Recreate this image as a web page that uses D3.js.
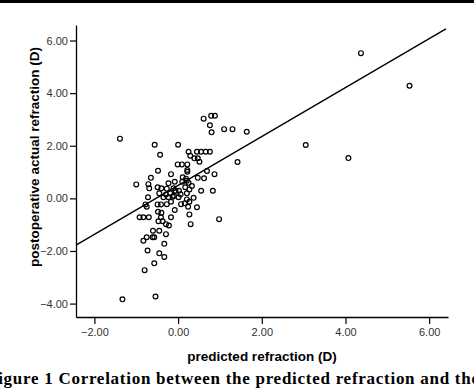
<!DOCTYPE html>
<html>
<head>
<meta charset="utf-8">
<script src="https://cdn.jsdelivr.net/npm/d3@7"></script>
<style>
  body { margin: 0; background: #fff; }
  svg { display: block; }
</style>
</head>
<body>
<script>
// predicted refraction (D) and postoperative actual refraction (D)
let predicted = [4.37, 5.53, 1.64, 3.05, 4.07, 1.42,
  -1.39, -0.56, 0.00, -0.43, 0.61, 0.79, 0.88, 0.76, 0.80, 1.10, 1.30,
  0.25, 0.45, 0.55, 0.66, 0.76, 0.29, 0.39, 0.47, 0.51,
  -0.01, 0.09, 0.22, 0.22, 0.22, -0.48, -0.17, 0.69, 0.87, 0.62, 0.47, -0.65, 0.11, 0.19,
  -0.08, 0.10, 0.21, -1.00, -0.71, -0.69, -0.23, 0.25, 0.33, -0.49, -0.40, -0.27, -0.11,
  0.02, -0.06, 0.17, 0.27, 0.55, 0.83, -0.45, -0.29, -0.19, -0.10, 0.06, 0.21,
  -0.72, -0.35, -0.23, -0.13, 0.01, 0.21, 0.37,
  -0.78, -0.75, -0.49, -0.41, -0.27, -0.08, 0.16, 0.24, 0.45, 0.27, -0.48, -0.40,
  -0.92, -0.83, -0.70, -0.41, -0.17, 0.98, -0.17, 0.07, 0.27,
  -0.47, -0.37, -0.29, -0.22, 0.30, -0.60, -0.45, -0.29, -0.75, -0.61, -0.57,
  -0.83, -0.33, -0.73, -0.45, -0.33, -0.57, -0.80, -1.33, -0.54];
let actual = [5.52, 4.28, 2.53, 2.03, 1.53, 1.38,
  2.27, 2.04, 2.04, 1.66, 3.03, 3.14, 3.14, 2.78, 2.51, 2.63, 2.63,
  1.77, 1.77, 1.77, 1.77, 1.77, 1.62, 1.52, 1.52, 1.39,
  1.29, 1.29, 1.29, 1.08, 1.01, 1.05, 0.92, 1.04, 0.92, 0.76, 0.78, 0.78, 0.80, 0.75,
  0.63, 0.63, 0.67, 0.53, 0.54, 0.38, 0.57, 0.59, 0.47, 0.42, 0.38, 0.37, 0.38,
  0.29, 0.29, 0.42, 0.34, 0.29, 0.29, 0.19, 0.15, 0.19, 0.10, 0.16, 0.19,
  0.04, 0.04, 0.04, 0.06, 0.04, -0.04, 0.02,
  -0.23, -0.32, -0.23, -0.23, -0.22, -0.44, -0.19, -0.32, -0.34, -0.61, -0.51, -0.55,
  -0.72, -0.72, -0.72, -0.72, -0.72, -0.79, -0.13, -0.22, -0.13,
  -0.87, -0.87, -0.98, -1.03, -0.98, -1.23, -1.23, -1.36, -1.48, -1.48, -1.48,
  -1.61, -1.73, -1.98, -2.09, -2.23, -2.47, -2.73, -3.84, -3.73];

let xTicks = [-2, 0, 2, 4, 6];
let yTicks = [-4, -2, 0, 2, 4, 6];
// fit line: intercept, slope, and x where it ends
let fitIntercept = 0.49;
let fitSlope = 0.93;
let fitEndX = 6.40;

let w = 474;
let h = 388;
let sans = "'Liberation Sans', Arial, sans-serif";

let svg = d3.select("body")
            .append("svg")
            .attr("width", w)
            .attr("height", h);

// black rule at top of page
svg.append("rect")
    .attr("x", 0).attr("y", 0)
    .attr("width", w).attr("height", 3)
    .attr("fill", "#000");

let x = d3.scaleLinear().domain([-2.44, 6.45]).range([76, 448]);
let y = d3.scaleLinear().domain([-4.51, 6.59]).range([317, 25]);

let fmt = d3.format(".2f");

let yAxis = svg.append("g")
    .attr("transform", "translate(76,0)")
    .call(d3.axisLeft(y).tickValues(yTicks).tickFormat(fmt).tickSize(6).tickSizeOuter(0));

let xAxis = svg.append("g")
    .attr("transform", "translate(0,317)")
    .call(d3.axisBottom(x).tickValues(xTicks).tickFormat(fmt).tickSize(7).tickSizeOuter(0));

svg.selectAll(".domain").attr("stroke", "#000").attr("stroke-width", 1.3);
svg.selectAll(".tick line").attr("stroke", "#000").attr("stroke-width", 1.2);
svg.selectAll(".tick text")
    .attr("font-family", sans)
    .attr("font-size", "11px")
    .attr("fill", "#333");
yAxis.selectAll(".tick text").attr("x", -8);
xAxis.selectAll(".tick text").attr("y", 11);

// regression line
svg.append("line")
    .attr("x1", x(-2.44))
    .attr("y1", y(fitIntercept + fitSlope * -2.44))
    .attr("x2", x(fitEndX))
    .attr("y2", y(fitIntercept + fitSlope * fitEndX))
    .attr("stroke", "#000")
    .attr("stroke-width", 1.4);

svg.selectAll("circle.pt")
    .data(d3.range(predicted.length))
    .enter()
    .append("circle")
    .attr("class", "pt")
    .attr("cx", function(i) { return x(predicted[i]); })
    .attr("cy", function(i) { return y(actual[i]); })
    .attr("r", 2.4)
    .attr("fill", "none")
    .attr("stroke", "#000")
    .attr("stroke-width", 1.2);

svg.append("text")
    .text("predicted refraction (D)")
    .attr("x", 262)
    .attr("y", 361)
    .attr("text-anchor", "middle")
    .attr("font-family", sans)
    .attr("font-weight", "bold")
    .attr("font-size", "13.5px");

svg.append("text")
    .text("postoperative actual refraction (D)")
    .attr("transform", "translate(39,157) rotate(-90)")
    .attr("text-anchor", "middle")
    .attr("font-family", sans)
    .attr("font-weight", "bold")
    .attr("font-size", "13.5px");

// figure caption, cut by the crop at both sides as in the source page
svg.append("text")
    .text("Figure 1 Correlation between the predicted refraction and the")
    .attr("x", -13)
    .attr("y", 384)
    .attr("textLength", 492)
    .attr("lengthAdjust", "spacing")
    .attr("font-family", "'Liberation Serif', 'Times New Roman', serif")
    .attr("font-weight", "bold")
    .attr("font-size", "17px");
</script>
</body>
</html>
